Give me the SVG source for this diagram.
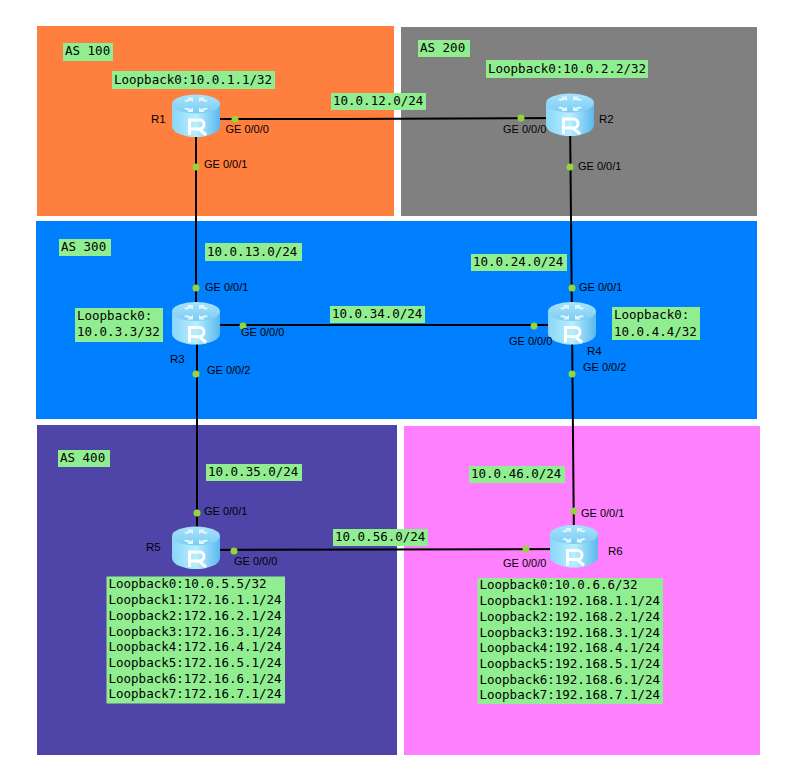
<svg xmlns="http://www.w3.org/2000/svg" width="790" height="771" viewBox="0 0 790 771">
<style>
.lb{fill:#90ee90}
.m{font-family:"DejaVu Sans Mono",monospace;font-size:12.5px;fill:#000}
.g{font-family:"Liberation Sans",Arial,sans-serif;font-size:11px;fill:#000}
.r{font-family:"Liberation Sans",Arial,sans-serif;font-size:11.5px;fill:#000}
.l{stroke:#000;stroke-width:2;fill:none}
.d{fill:#94d63a}
</style>
<defs>
<linearGradient id="side" x1="0" y1="0" x2="1" y2="0">
<stop offset="0" stop-color="#8ad6f8"/><stop offset="0.5" stop-color="#b8efff"/><stop offset="1" stop-color="#5cb8ee"/>
</linearGradient>
<linearGradient id="top" x1="0" y1="0" x2="0" y2="1">
<stop offset="0" stop-color="#a8e4fb"/><stop offset="1" stop-color="#7ccbf3"/>
</linearGradient>
<g id="router">
<path d="M-24-12V10A24 11 0 0 0 24 10V-12Z" fill="url(#side)"/>
<ellipse cx="0" cy="-12" rx="24" ry="9.5" fill="url(#top)"/>
<path d="M-3-18.500h-6l2 1.500-5 1.500 2 1.500 5-1.500 2 1.500ZM3-18.500h6l-2 1.500 5 1.500-2 1.500-5-1.500-2 1.500ZM-3-4h-6l2-1.500-5-1.500 2-1.500 5 1.500 2-1.500ZM3-4h6l-2-1.500 5-1.500-2-1.500-5 1.500-2-1.500Z" fill="#e4f7ff"/>
<path d="M-6.500 19V4H3.500A4.500 4.500 0 0 1 3.500 13H-6.500M3 13 10 19" fill="none" stroke="#fff" stroke-width="3"/>
</g>
</defs>
<rect width="790" height="771" fill="#fff"/>
<g id="areas">
<rect x="37" y="26" width="357" height="190" fill="#ff7f3f"/>
<rect x="401" y="27" width="356" height="189" fill="#808080"/>
<rect x="36" y="221" width="721" height="198" fill="#0080ff"/>
<rect x="37" y="425" width="360" height="330" fill="#4f45a8"/>
<rect x="404" y="426" width="356" height="329" fill="#ff80ff"/>
</g>
<g id="connectors">
<path class="l" d="M196 119H345L570 118"/>
<path class="l" d="M196 118V323"/>
<path class="l" d="M570 115 572 323"/>
<path class="l" d="M196 325H572"/>
<path class="l" d="M197 323V549"/>
<path class="l" d="M572 323 574 547"/>
<path class="l" d="M196 550 574 549"/>
</g>
<g id="R1"><use href="#router" x="196" y="116"/><text class="r" x="151" y="123">R1</text></g>
<g id="R2"><use href="#router" x="570" y="115"/><text class="r" x="599" y="123">R2</text></g>
<g id="R3"><use href="#router" x="196" y="323.500"/><text class="r" x="170" y="363">R3</text></g>
<g id="R4"><use href="#router" x="572" y="323.500"/><text class="r" x="587" y="355">R4</text></g>
<g id="R5"><use href="#router" x="196" y="548"/><text class="r" x="146" y="551">R5</text></g>
<g id="R6"><use href="#router" x="574" y="546.500"/><text class="r" x="608" y="555">R6</text></g>
<g id="ports">
<circle class="d" cx="235" cy="119" r="3.500"/><text class="g" x="225.500" y="133">GE 0/0/0</text>
<circle class="d" cx="196" cy="167" r="3.500"/><text class="g" x="204" y="168">GE 0/0/1</text>
<circle class="d" cx="521" cy="118" r="3.500"/><text class="g" x="503" y="133">GE 0/0/0</text>
<circle class="d" cx="570" cy="167" r="3.500"/><text class="g" x="578" y="170">GE 0/0/1</text>
<circle class="d" cx="196" cy="288" r="3.500"/><text class="g" x="205" y="291">GE 0/0/1</text>
<circle class="d" cx="243" cy="326" r="3.500"/><text class="g" x="241" y="336">GE 0/0/0</text>
<circle class="d" cx="196" cy="374" r="3.500"/><text class="g" x="207" y="374">GE 0/0/2</text>
<circle class="d" cx="572" cy="288" r="3.500"/><text class="g" x="579" y="291">GE 0/0/1</text>
<circle class="d" cx="534" cy="326" r="3.500"/><text class="g" x="509" y="345">GE 0/0/0</text>
<circle class="d" cx="572" cy="374" r="3.500"/><text class="g" x="583" y="371">GE 0/0/2</text>
<circle class="d" cx="197" cy="513" r="3.500"/><text class="g" x="204" y="515">GE 0/0/1</text>
<circle class="d" cx="234" cy="551" r="3.500"/><text class="g" x="234" y="565">GE 0/0/0</text>
<circle class="d" cx="574" cy="511" r="3.500"/><text class="g" x="581" y="517">GE 0/0/1</text>
<circle class="d" cx="526" cy="549" r="3.500"/><text class="g" x="503" y="567">GE 0/0/0</text>
</g>
<g id="labels">
<rect class="lb" x="63" y="43" width="50" height="18"/><text class="m" x="65" y="55">AS 100</text>
<rect class="lb" x="418" y="40" width="52" height="17"/><text class="m" x="420" y="52">AS 200</text>
<rect class="lb" x="59" y="239" width="52" height="17"/><text class="m" x="61" y="251">AS 300</text>
<rect class="lb" x="58" y="450" width="52" height="17"/><text class="m" x="60" y="462">AS 400</text>
<rect class="lb" x="112" y="71" width="163" height="18"/><text class="m" x="114" y="83.500">Loopback0:10.0.1.1/32</text>
<rect class="lb" x="486" y="60" width="162" height="18"/><text class="m" x="488" y="73">Loopback0:10.0.2.2/32</text>
<rect class="lb" x="75" y="308" width="88" height="34"/><text class="m" x="77" y="320">Loopback0:</text><text class="m" x="77" y="336">10.0.3.3/32</text>
<rect class="lb" x="612" y="307" width="88" height="33"/><text class="m" x="614" y="319">Loopback0:</text><text class="m" x="614" y="336">10.0.4.4/32</text>
<rect class="lb" x="331" y="93" width="95" height="17"/><text class="m" x="333" y="105">10.0.12.0/24</text>
<rect class="lb" x="205" y="243" width="97" height="18"/><text class="m" x="207" y="256">10.0.13.0/24</text>
<rect class="lb" x="471" y="254" width="96" height="17"/><text class="m" x="473" y="266">10.0.24.0/24</text>
<rect class="lb" x="330" y="306" width="95" height="17"/><text class="m" x="332" y="318">10.0.34.0/24</text>
<rect class="lb" x="206" y="464" width="96" height="17"/><text class="m" x="208" y="476">10.0.35.0/24</text>
<rect class="lb" x="469" y="466" width="96" height="17"/><text class="m" x="471" y="478">10.0.46.0/24</text>
<rect class="lb" x="333" y="529" width="95" height="17"/><text class="m" x="335" y="541">10.0.56.0/24</text>
<rect class="lb" x="106.500" y="576.500" width="178.500" height="127"/>
<text class="m" x="108.500" y="588">Loopback0:10.0.5.5/32</text>
<text class="m" x="108.500" y="604">Loopback1:172.16.1.1/24</text>
<text class="m" x="108.500" y="619.500">Loopback2:172.16.2.1/24</text>
<text class="m" x="108.500" y="635.500">Loopback3:172.16.3.1/24</text>
<text class="m" x="108.500" y="651">Loopback4:172.16.4.1/24</text>
<text class="m" x="108.500" y="666.500">Loopback5:172.16.5.1/24</text>
<text class="m" x="108.500" y="682.500">Loopback6:172.16.6.1/24</text>
<text class="m" x="108.500" y="698">Loopback7:172.16.7.1/24</text>
<rect class="lb" x="477.500" y="578" width="185.500" height="126"/>
<text class="m" x="479.500" y="589">Loopback0:10.0.6.6/32</text>
<text class="m" x="479.500" y="605">Loopback1:192.168.1.1/24</text>
<text class="m" x="479.500" y="620.500">Loopback2:192.168.2.1/24</text>
<text class="m" x="479.500" y="636.500">Loopback3:192.168.3.1/24</text>
<text class="m" x="479.500" y="652">Loopback4:192.168.4.1/24</text>
<text class="m" x="479.500" y="667.500">Loopback5:192.168.5.1/24</text>
<text class="m" x="479.500" y="683.500">Loopback6:192.168.6.1/24</text>
<text class="m" x="479.500" y="699">Loopback7:192.168.7.1/24</text>
</g>
</svg>
